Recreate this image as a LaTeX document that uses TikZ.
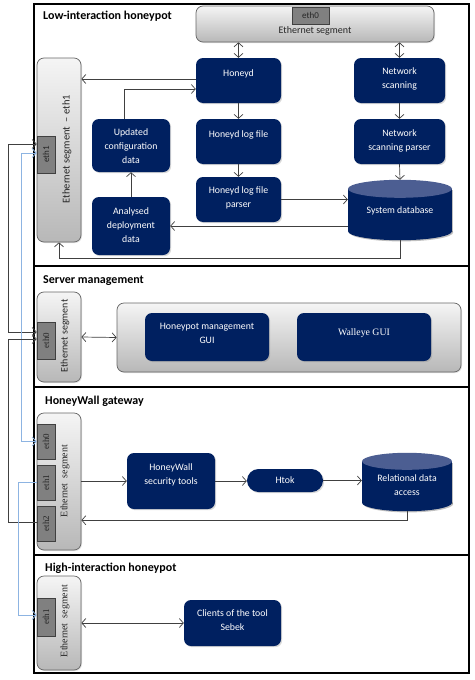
\documentclass[tikz,border=0pt]{standalone}
\usepackage{fontspec}
\setmainfont{Carlito}
\newfontfamily\seriffont{Liberation Serif}
\usetikzlibrary{arrows.meta,shadows,calc}
\definecolor{navy}{RGB}{0,32,96}
\definecolor{navytop}{RGB}{76,94,146}
\definecolor{lblue}{RGB}{141,180,226}
\definecolor{linec}{RGB}{64,64,64}
\begin{document}
\begin{tikzpicture}[x=1pt,y=-1pt,
  >={Straight Barb[length=4pt,width=9pt]},
  sec/.style={draw=black, line width=1.6pt, fill=white, inner sep=0pt},
  title/.style={anchor=west, inner sep=0pt, font=\bfseries\fontsize{12}{14}\selectfont},
  seg/.style={draw=black!60, line width=0.7pt, rounded corners=7pt, top color=black!4, bottom color=black!28, inner sep=0pt, drop shadow={shadow xshift=1pt, shadow yshift=-1pt, opacity=0.25}},
  ethbox/.style={draw=black!75, fill=black!50, line width=0.6pt, inner sep=0pt},
  ethtxt/.style={inner sep=0pt, text=black!85, font=\fontsize{9}{10}\selectfont},
  segtxt/.style={inner sep=0pt, text=black!85, font=\fontsize{10}{12}\selectfont},
  bx/.style={fill=navy, rounded corners=7pt, inner sep=0pt, drop shadow={shadow xshift=1.2pt, shadow yshift=-1.2pt, opacity=0.3}},
  bxt/.style={text=white, align=center, inner sep=0pt, font=\fontsize{9.8}{14}\selectfont},
  conn/.style={draw=linec, line width=0.7pt},
  bluel/.style={draw=lblue, line width=0.8pt},
]
\useasboundingbox (0,0) rectangle (474,680);
\fill[white] (0,0) rectangle (474,680);

% sections
\node[sec, minimum width=435pt, minimum height=262pt] (sec1) at (251.5,135) {};
\node[sec, minimum width=435pt, minimum height=121pt] (sec2) at (251.5,326.5) {};
\node[sec, minimum width=435pt, minimum height=168pt] (sec3) at (251.5,471) {};
\node[sec, minimum width=435pt, minimum height=118pt] (sec4) at (251.5,614) {};
\node[title] (t1) at (43,16) {Low-interaction honeypot};
\node[title] (t2) at (43,281) {Server management};
\node[title] (t3) at (45,401) {HoneyWall gateway};
\node[title] (t4) at (45,568) {High-interaction honeypot};

% ---------- Low-interaction honeypot ----------
\node[seg, minimum width=238pt, minimum height=36pt] (eth0top) at (315,24) {};
\node[ethbox, minimum width=37pt, minimum height=17pt] (eth0tbox) at (310.5,15.5) {};
\node[ethtxt] (eth0tt) at (310.5,15.5) {eth0};
\node[segtxt] (eth0ts) at (315,31) {Ethernet segment};

\node[seg, minimum width=44pt, minimum height=184pt] (seg1) at (59,150) {};
\node[ethbox, minimum width=18pt, minimum height=37pt] (eth1low) at (46,154.5) {};
\node[ethtxt, rotate=90] (eth1lowt) at (46,154.5) {eth1};
\node[segtxt, rotate=90, font=\fontsize{10.5}{12}\selectfont] (seg1t) at (67,149) {Ethernet segment\ \ – eth1};

\node[bx, minimum width=85pt, minimum height=45pt] (honeyd) at (238.5,80.5) {};
\node[bxt] (honeydt) at (238.5,74) {Honeyd};
\node[bx, minimum width=91pt, minimum height=45pt] (netscan) at (399.5,80.5) {};
\node[bxt] (netscant) at (399.5,79) {Network\\scanning};
\node[bx, minimum width=78pt, minimum height=53pt] (updcfg) at (131,145.5) {};
\node[bxt] (updcfgt) at (131,146.5) {Updated\\configuration\\data};
\node[bx, minimum width=85pt, minimum height=45pt] (logfile) at (238.5,141.5) {};
\node[bxt] (logfilet) at (238.5,134.5) {Honeyd log file};
\node[bx, minimum width=91pt, minimum height=45pt] (nsparser) at (399.5,141.5) {};
\node[bxt] (nsparsert) at (399.5,140.5) {Network\\scanning parser};
\node[bx, minimum width=85pt, minimum height=45pt] (logparser) at (238.5,199.5) {};
\node[bxt] (logparsert) at (238.5,198) {Honeyd log file\\parser};
\node[bx, minimum width=78pt, minimum height=58pt] (analysed) at (131,226) {};
\node[bxt] (analysedt) at (131,225.5) {Analysed\\deployment\\data};

% system database cylinder
\node[inner sep=0pt, minimum width=104pt, minimum height=60pt] (sysdb) at (400,210) {};
\fill[black, opacity=0.25] ([xshift=1.2pt,yshift=-10.2pt]sysdb.north west) rectangle ([xshift=1.2pt,yshift=7.8pt]sysdb.south east);
\fill[black, opacity=0.25] ([xshift=1.2pt,yshift=7.8pt]sysdb.south) ellipse [x radius=52pt, y radius=9pt];
\fill[navy] ([yshift=-9pt]sysdb.north west) rectangle ([yshift=9pt]sysdb.south east);
\fill[navy] ([yshift=9pt]sysdb.south) ellipse [x radius=52pt, y radius=9pt];
\fill[navytop] ([yshift=-9pt]sysdb.north) ellipse [x radius=52pt, y radius=9pt];
\node[bxt] (sysdbt) at (400,211) {System database};

% connectors low
\draw[conn,<->] (honeyd.north) -- (honeyd.north |- eth0top.south);
\draw[conn,<->] (netscan.north) -- (netscan.north |- eth0top.south);
\coordinate (h1) at ([yshift=1.5pt]honeyd.west);
\draw[conn,->] (h1) -- (h1 -| seg1.east);
\coordinate (u1) at ([xshift=-7pt]updcfg.north);
\coordinate (h2) at ([yshift=-8.5pt]honeyd.west);
\draw[conn,->] (u1) |- (h2);
\draw[conn,->] (honeyd.south) -- (logfile.north);
\draw[conn,->] (logfile.south) -- (logparser.north);
\draw[conn,->] (netscan.south) -- (nsparser.north);
\draw[conn,->] (nsparser.south) -- (sysdb.north);
\draw[conn,->] (logparser.east) -- (logparser.east -| sysdb.west);
\coordinate (s1) at ([yshift=-16pt]sysdb.west);
\draw[conn,->] (s1) -- (s1 -| analysed.east);
\draw[conn,->] (analysed.north) -- (updcfg.south);
\draw[conn,->] (sysdb.south) -- ++(0,18) -| (seg1.south);

% ---------- Server management ----------
\node[seg, minimum width=44pt, minimum height=90pt] (seg2) at (59,337) {};
\node[ethbox, minimum width=18pt, minimum height=37pt] (eth0srv) at (46,340.5) {};
\node[ethtxt, rotate=90, font=\seriffont\fontsize{9}{10}\selectfont] (eth0srvt) at (46,340.5) {eth0};
\node[segtxt, rotate=90] (seg2t) at (65,336) {Ethernet segment};
\node[seg, minimum width=344pt, minimum height=69pt] (container) at (289,337.5) {};
\node[bx, minimum width=124pt, minimum height=48pt] (hpmgui) at (207,337) {};
\node[bxt] (hpmguit) at (207,333.5) {Honeypot management\\GUI};
\node[bx, minimum width=134pt, minimum height=48pt] (walleye) at (364,337) {};
\node[bxt, font=\seriffont\fontsize{9.8}{14}\selectfont] (walleyet) at (364,333) {Walleye GUI};
\draw[conn,<->] (seg2.east) -- (container.west);

% ---------- HoneyWall gateway ----------
\node[seg, minimum width=44pt, minimum height=137pt] (seg3) at (59,481.5) {};
\node[ethbox, minimum width=18pt, minimum height=35pt] (eth0hw) at (46,441.5) {};
\node[ethbox, minimum width=18pt, minimum height=35pt] (eth1hw) at (46,482.5) {};
\node[ethbox, minimum width=18pt, minimum height=35pt] (eth2hw) at (46,523.5) {};
\node[ethtxt, rotate=90, font=\seriffont\fontsize{9}{10}\selectfont] (eth0hwt) at (46,441.5) {eth0};
\node[ethtxt, rotate=90, font=\seriffont\fontsize{9}{10}\selectfont] (eth1hwt) at (46,482.5) {eth1};
\node[ethtxt, rotate=90, font=\seriffont\fontsize{9}{10}\selectfont] (eth2hwt) at (46,523.5) {eth2};
\node[segtxt, rotate=90, font=\seriffont\fontsize{10}{12}\selectfont] (seg3t) at (65,481) {Ethernet\ \ segment};
\node[bx, minimum width=88pt, minimum height=56pt] (hwsec) at (171,481) {};
\node[bxt] (hwsect) at (171,475) {HoneyWall\\security tools};
\node[bx, rounded corners=11.5pt, minimum width=76pt, minimum height=23pt] (htok) at (285,480.5) {};
\node[bxt] (htokt) at (285,480.5) {Htok};

\node[inner sep=0pt, minimum width=90pt, minimum height=58pt] (reldb) at (407,482) {};
\fill[black, opacity=0.25] ([xshift=1.2pt,yshift=-9.7pt]reldb.north west) rectangle ([xshift=1.2pt,yshift=7.3pt]reldb.south east);
\fill[black, opacity=0.25] ([xshift=1.2pt,yshift=7.3pt]reldb.south) ellipse [x radius=45pt, y radius=8.5pt];
\fill[navy] ([yshift=-8.5pt]reldb.north west) rectangle ([yshift=8.5pt]reldb.south east);
\fill[navy] ([yshift=8.5pt]reldb.south) ellipse [x radius=45pt, y radius=8.5pt];
\fill[navytop] ([yshift=-8.5pt]reldb.north) ellipse [x radius=45pt, y radius=8.5pt];
\node[bxt] (reldbt) at (407,485) {Relational data\\access};

\draw[conn,->] (hwsec.west -| seg3.east) -- (hwsec.west);
\draw[conn,->] (hwsec.east) -- (hwsec.east -| htok.west);
\draw[conn,->] (htok.east) -- (htok.east -| reldb.west);
\coordinate (r1) at ([yshift=-9pt]reldb.south);
\draw[conn,->] (reldb.south) -- (r1) -- (r1 -| seg3.east);

% ---------- High-interaction honeypot ----------
\node[seg, minimum width=44pt, minimum height=94pt] (seg4) at (59,623) {};
\node[ethbox, minimum width=18pt, minimum height=38pt] (eth1hi) at (46,617) {};
\node[ethtxt, rotate=90, font=\seriffont\fontsize{9}{10}\selectfont] (eth1hit) at (46,617) {eth1};
\node[segtxt, rotate=90, font=\seriffont\fontsize{10}{12}\selectfont] (seg4t) at (65,621) {Ethernet\ \ segment};
\node[bx, minimum width=97pt, minimum height=46pt] (sebek) at (232.5,623) {};
\node[bxt] (sebekt) at (232.5,620.5) {Clients of the tool\\Sebek};
\draw[conn,<->] (sebek.west -| seg4.east) -- (sebek.west);

% ---------- left interconnections ----------
\coordinate (busdark) at (8,0);
\coordinate (busblueA) at (21,0);
\coordinate (busblueB) at (18,0);
\coordinate (a1) at ([yshift=10.5pt]eth1low.west);
\coordinate (a2) at ([yshift=8.5pt]eth0srv.west);
\draw[conn,<->] (a1) -- (a1 -| busdark) -- (a2 -| busdark) -- (a2);
\coordinate (b1) at ([yshift=1.5pt]eth1low.west);
\coordinate (b2) at (eth0hw.west);
\draw[bluel,<->] (b1) -- (b1 -| busblueA) -- (b2 -| busblueA) -- (b2);
\coordinate (c1) at ([yshift=1.5pt]eth0srv.west);
\coordinate (c2) at ([yshift=1.5pt]eth2hw.west);
\draw[conn,<-] (c1) -- (c1 -| busdark) -- (c2 -| busdark) -- (c2);
\coordinate (d1) at (eth1hw.west);
\coordinate (d2) at ([yshift=2pt]eth1hi.west);
\draw[bluel,->] (d1) -- (d1 -| busblueB) -- (d2 -| busblueB) -- (d2);
\end{tikzpicture}
\end{document}
